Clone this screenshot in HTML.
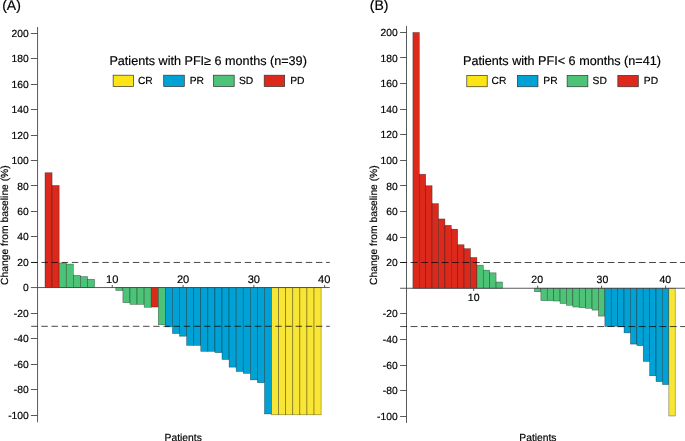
<!DOCTYPE html>
<html lang="en">
<head>
<meta charset="utf-8">
<title>Waterfall plots</title>
<style>
html,body{margin:0;padding:0;background:#fff}
body{width:685px;height:441px;overflow:hidden}
svg{display:block;font-family:"Liberation Sans",sans-serif;fill:#000}
text{text-rendering:geometricPrecision;stroke:#000;stroke-width:.18px;stroke-linejoin:round}
</style>
</head>
<body>
<svg width="685" height="441" viewBox="0 0 685 441">
<rect width="685" height="441" fill="#fff"/>
<g id="panelA">
<g stroke="#000" stroke-opacity=".5" stroke-width=".58">
<rect x="45" y="172.74" width="7.08" height="114.81" fill="#dc291b"/>
<rect x="52.08" y="185.48" width="7.08" height="102.07" fill="#dc291b"/>
<rect x="59.16" y="262.94" width="7.08" height="24.61" fill="#4cc377"/>
<rect x="66.24" y="264.09" width="7.08" height="23.46" fill="#4cc377"/>
<rect x="73.32" y="275.42" width="7.08" height="12.13" fill="#4cc377"/>
<rect x="80.4" y="276.57" width="7.08" height="10.98" fill="#4cc377"/>
<rect x="87.48" y="279.25" width="7.08" height="8.3" fill="#4cc377"/>
<rect x="115.8" y="287.55" width="7.08" height="2.91" fill="#4cc377"/>
<rect x="122.88" y="287.55" width="7.08" height="15.14" fill="#4cc377"/>
<rect x="129.96" y="287.55" width="7.08" height="16.79" fill="#4cc377"/>
<rect x="137.04" y="287.55" width="7.08" height="16.79" fill="#4cc377"/>
<rect x="144.12" y="287.55" width="7.08" height="19.72" fill="#4cc377"/>
<rect x="151.2" y="287.55" width="7.08" height="19.47" fill="#dc291b"/>
<rect x="158.28" y="287.55" width="7.08" height="37.18" fill="#4cc377"/>
<rect x="165.36" y="287.55" width="7.08" height="39.34" fill="#00a1d4"/>
<rect x="172.44" y="287.55" width="7.08" height="45.97" fill="#00a1d4"/>
<rect x="179.52" y="287.55" width="7.08" height="48.64" fill="#00a1d4"/>
<rect x="186.6" y="287.55" width="7.08" height="57.82" fill="#00a1d4"/>
<rect x="193.68" y="287.55" width="7.08" height="57.82" fill="#00a1d4"/>
<rect x="200.76" y="287.55" width="7.08" height="63.8" fill="#00a1d4"/>
<rect x="207.84" y="287.55" width="7.08" height="63.8" fill="#00a1d4"/>
<rect x="214.92" y="287.55" width="7.08" height="65.08" fill="#00a1d4"/>
<rect x="222" y="287.55" width="7.08" height="71.96" fill="#00a1d4"/>
<rect x="229.08" y="287.55" width="7.08" height="79.6" fill="#00a1d4"/>
<rect x="236.16" y="287.55" width="7.08" height="83.93" fill="#00a1d4"/>
<rect x="243.24" y="287.55" width="7.08" height="85.84" fill="#00a1d4"/>
<rect x="250.32" y="287.55" width="7.08" height="92.34" fill="#00a1d4"/>
<rect x="257.4" y="287.55" width="7.08" height="95.15" fill="#00a1d4"/>
<rect x="264.48" y="287.55" width="7.08" height="126.36" fill="#00a1d4"/>
<rect x="271.56" y="287.55" width="7.08" height="127.25" fill="#f9e533"/>
<rect x="278.64" y="287.55" width="7.08" height="127.25" fill="#f9e533"/>
<rect x="285.72" y="287.55" width="7.08" height="127.25" fill="#f9e533"/>
<rect x="292.8" y="287.55" width="7.08" height="127.25" fill="#f9e533"/>
<rect x="299.88" y="287.55" width="7.08" height="127.25" fill="#f9e533"/>
<rect x="306.96" y="287.55" width="7.08" height="127.25" fill="#f9e533"/>
<rect x="314.04" y="287.55" width="7.08" height="127.25" fill="#f9e533"/>
</g>
<g stroke="#45484a" stroke-width=".9" fill="none">
<path d="M37.55 27V422.3"/>
<path d="M30.85 415.5H37.55M30.85 389.5H37.55M30.85 364.5H37.55M30.85 338.5H37.55M30.85 313.5H37.55M30.85 287.55H37.55M30.85 262.5H37.55M30.85 236.5H37.55M30.85 211.5H37.55M30.85 185.5H37.55M30.85 160.5H37.55M30.85 135.5H37.55M30.85 109.5H37.55M30.85 84.5H37.55M30.85 58.5H37.55M30.85 33.5H37.55"/>
<path d="M37.55 287.55H329.8"/>
<path d="M112.26 287.55v-2.6M183.06 287.55v-2.6M253.86 287.55v-2.6M324.66 287.55v-2.6"/>
</g>
<g stroke="#000" stroke-opacity=".72" stroke-width="1" stroke-dasharray="6.4 3.77" fill="none">
<path d="M31.2 262.45H329.8"/>
<path d="M31.2 326.3H329.8"/>
</g>
<g font-size="10.3" text-anchor="end">
<text x="28.75" y="418.73">-100</text>
<text x="28.75" y="393.26">-80</text>
<text x="28.75" y="367.8">-60</text>
<text x="28.75" y="342.33">-40</text>
<text x="28.75" y="316.87">-20</text>
<text x="28.75" y="291.4">0</text>
<text x="28.75" y="265.93">20</text>
<text x="28.75" y="240.47">40</text>
<text x="28.75" y="215">60</text>
<text x="28.75" y="189.54">80</text>
<text x="28.75" y="164.07">100</text>
<text x="28.75" y="138.6">120</text>
<text x="28.75" y="113.14">140</text>
<text x="28.75" y="87.67">160</text>
<text x="28.75" y="62.21">180</text>
<text x="28.75" y="36.74">200</text>
</g>
<g font-size="11.1" text-anchor="middle">
<text x="112.26" y="282.65">10</text>
<text x="183.06" y="282.65">20</text>
<text x="253.86" y="282.65">30</text>
<text x="324.16" y="282.65">40</text>
</g>
<text font-size="10.3" text-anchor="middle" transform="translate(8.05 225.1) rotate(-90)">Change from baseline (%)</text>
<text font-size="10.3" text-anchor="middle" x="183.2" y="440.6">Patients</text>
<text font-size="14" x="2.2" y="10">(A)</text>
<text font-size="12.63" x="109.4" y="64.9">Patients with PFI≥ 6 months (n=39)</text>
<g stroke="#333" stroke-width=".7">
<rect x="113.15" y="75.2" width="20.4" height="11.35" fill="#fde515"/>
<rect x="163.7" y="75.2" width="20.6" height="11.35" fill="#00a1d4"/>
<rect x="213.5" y="75.2" width="20.7" height="11.35" fill="#4cc377"/>
<rect x="264.2" y="75.2" width="20.45" height="11.35" fill="#dc291b"/>
</g>
<g font-size="10.3">
<text x="137.9" y="84.2">CR</text>
<text x="189.7" y="84.2">PR</text>
<text x="238.9" y="84.2">SD</text>
<text x="290.2" y="84.2">PD</text>
</g>
</g>
<g id="panelB">
<g stroke="#000" stroke-opacity=".5" stroke-width=".58">
<rect x="412.9" y="32.5" width="6.4" height="255.75" fill="#dc291b"/>
<rect x="419.3" y="174.25" width="6.4" height="114" fill="#dc291b"/>
<rect x="425.7" y="185.74" width="6.4" height="102.51" fill="#dc291b"/>
<rect x="432.09" y="203.62" width="6.4" height="84.63" fill="#dc291b"/>
<rect x="438.49" y="218.94" width="6.4" height="69.31" fill="#dc291b"/>
<rect x="444.89" y="225.33" width="6.4" height="62.92" fill="#dc291b"/>
<rect x="451.29" y="229.16" width="6.4" height="59.09" fill="#dc291b"/>
<rect x="457.69" y="244.74" width="6.4" height="43.51" fill="#dc291b"/>
<rect x="464.08" y="248.7" width="6.4" height="39.55" fill="#dc291b"/>
<rect x="470.48" y="257.51" width="6.4" height="30.74" fill="#dc291b"/>
<rect x="476.88" y="265.17" width="6.4" height="23.08" fill="#4cc377"/>
<rect x="483.28" y="270.15" width="6.4" height="18.1" fill="#4cc377"/>
<rect x="489.68" y="272.83" width="6.4" height="15.42" fill="#4cc377"/>
<rect x="496.07" y="282.03" width="6.4" height="6.22" fill="#4cc377"/>
<rect x="534.46" y="288.25" width="6.4" height="3.48" fill="#4cc377"/>
<rect x="540.86" y="288.25" width="6.4" height="12.42" fill="#4cc377"/>
<rect x="547.26" y="288.25" width="6.4" height="12.42" fill="#4cc377"/>
<rect x="553.66" y="288.25" width="6.4" height="12.8" fill="#4cc377"/>
<rect x="560.05" y="288.25" width="6.4" height="15.23" fill="#4cc377"/>
<rect x="566.45" y="288.25" width="6.4" height="17.02" fill="#4cc377"/>
<rect x="572.85" y="288.25" width="6.4" height="18.8" fill="#4cc377"/>
<rect x="579.25" y="288.25" width="6.4" height="19.44" fill="#4cc377"/>
<rect x="585.65" y="288.25" width="6.4" height="20.08" fill="#4cc377"/>
<rect x="592.04" y="288.25" width="6.4" height="21.87" fill="#4cc377"/>
<rect x="598.44" y="288.25" width="6.4" height="27.87" fill="#4cc377"/>
<rect x="604.84" y="288.25" width="6.4" height="38.22" fill="#00a1d4"/>
<rect x="611.24" y="288.25" width="6.4" height="37.96" fill="#00a1d4"/>
<rect x="617.64" y="288.25" width="6.4" height="38.6" fill="#00a1d4"/>
<rect x="624.03" y="288.25" width="6.4" height="44.6" fill="#00a1d4"/>
<rect x="630.43" y="288.25" width="6.4" height="55.84" fill="#00a1d4"/>
<rect x="636.83" y="288.25" width="6.4" height="57.37" fill="#00a1d4"/>
<rect x="643.23" y="288.25" width="6.4" height="73.21" fill="#00a1d4"/>
<rect x="649.63" y="288.25" width="6.4" height="87.51" fill="#00a1d4"/>
<rect x="656.02" y="288.25" width="6.4" height="93.38" fill="#00a1d4"/>
<rect x="662.42" y="288.25" width="6.4" height="96.32" fill="#00a1d4"/>
<rect x="668.82" y="288.25" width="6.4" height="127.73" fill="#f9e533"/>
</g>
<g stroke="#45484a" stroke-width=".9" fill="none">
<path d="M406.5 26V422.9"/>
<path d="M400.1 416.5H406.5M400.1 390.5H406.5M400.1 365.5H406.5M400.1 339.5H406.5M400.1 313.5H406.5M400.1 288.25H406.5M400.1 262.5H406.5M400.1 237.5H406.5M400.1 211.5H406.5M400.1 185.5H406.5M400.1 160.5H406.5M400.1 134.5H406.5M400.1 109.5H406.5M400.1 83.5H406.5M400.1 57.5H406.5M400.1 32.5H406.5"/>
<path d="M406.5 288.25H686"/>
<path d="M473.68 288.25v2.6M537.66 288.25v-2.6M601.64 288.25v-2.6M665.62 288.25v-2.6"/>
</g>
<g stroke="#000" stroke-opacity=".72" stroke-width="1" stroke-dasharray="6.9 3.47" fill="none">
<path d="M400.2 262.5H686"/>
<path d="M400.2 326.55H686"/>
</g>
<g font-size="10.3" text-anchor="end">
<text x="397.7" y="419.85">-100</text>
<text x="397.7" y="394.26">-80</text>
<text x="397.7" y="368.67">-60</text>
<text x="397.7" y="343.08">-40</text>
<text x="397.7" y="317.49">-20</text>
<text x="397.7" y="266.31">20</text>
<text x="397.7" y="240.72">40</text>
<text x="397.7" y="215.13">60</text>
<text x="397.7" y="189.54">80</text>
<text x="397.7" y="163.95">100</text>
<text x="397.7" y="138.36">120</text>
<text x="397.7" y="112.77">140</text>
<text x="397.7" y="87.18">160</text>
<text x="397.7" y="61.59">180</text>
<text x="397.7" y="36">200</text>
</g>
<g font-size="10.5" text-anchor="middle">
<text x="473.68" y="301.15">10</text>
<text x="537.16" y="283.35">20</text>
<text x="602.44" y="283.35">30</text>
<text x="665.32" y="283.35">40</text>
</g>
<text font-size="10.3" text-anchor="middle" transform="translate(377 225.1) rotate(-90)">Change from baseline (%)</text>
<text font-size="10.3" text-anchor="middle" x="537.9" y="440.6">Patients</text>
<text font-size="14" x="369.8" y="10">(B)</text>
<text font-size="12.63" x="463" y="64.9">Patients with PFI&lt; 6 months (n=41)</text>
<g stroke="#333" stroke-width=".7">
<rect x="466.8" y="75.4" width="20.4" height="11.35" fill="#fde515"/>
<rect x="517.35" y="75.4" width="20.6" height="11.35" fill="#00a1d4"/>
<rect x="567.15" y="75.4" width="20.7" height="11.35" fill="#4cc377"/>
<rect x="617.85" y="75.4" width="20.45" height="11.35" fill="#dc291b"/>
</g>
<g font-size="10.3">
<text x="491.55" y="84.4">CR</text>
<text x="543.35" y="84.4">PR</text>
<text x="592.55" y="84.4">SD</text>
<text x="643.85" y="84.4">PD</text>
</g>
</g>
</svg>
</body>
</html>
